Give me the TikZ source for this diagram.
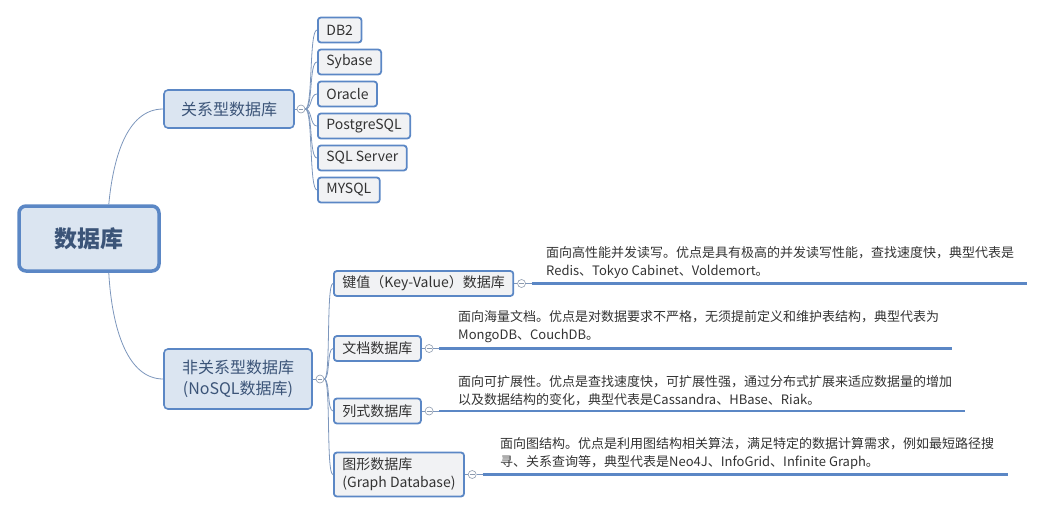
\documentclass[tikz,border=0pt]{standalone}
\usepackage{fontspec}
\setmainfont{Noto Sans CJK SC}
\usepackage{tikz}
\usetikzlibrary{positioning}
\usepackage{xcolor}
\definecolor{mapborder}{HTML}{5B87C5}
\definecolor{maproot}{HTML}{DBE5F1}
\definecolor{mapleaf}{HTML}{F1F2F4}
\definecolor{maplink}{HTML}{7C96BC}
\definecolor{mapfold}{HTML}{8C9AAE}
\definecolor{maptext}{HTML}{333333}
\definecolor{maphead}{HTML}{3B5478}

\begin{document}
\begin{tikzpicture}[x=1pt,y=-1pt,
  rootbox/.style={draw=mapborder,line width=3.5pt,rounded corners=7pt,fill=maproot,
    minimum width=140,minimum height=65,text=maphead,
    font=\fontsize{23}{26}\selectfont\bfseries},
  topic/.style={draw=mapborder,line width=1.6pt,rounded corners=4pt,fill=maproot,
    align=center,inner xsep=8pt,text=maphead,font=\fontsize{16}{21}\selectfont},
  leafbox/.style={draw=mapborder,line width=1.8pt,rounded corners=3pt,fill=mapleaf,
    anchor=west,minimum height=25,inner xsep=8.5pt,align=left,text=maptext,
    font=\fontsize{14}{18}\selectfont},
  fold/.style={circle,draw=mapfold,fill=white,inner sep=0pt,minimum size=8pt,line width=0.6pt,
    path picture={\draw[mapfold,line width=0.6pt]
      ([xshift=-2.4pt]path picture bounding box.center) --
      ([xshift=2.4pt]path picture bounding box.center);}},
  link/.style={draw=maplink,line width=0.8pt},
  bar/.style={draw=mapborder,line width=2.6pt},
  note/.style={anchor=south west,inner sep=0pt,align=left,text=maptext,
    font=\fontsize{13}{18}\selectfont}
]
\useasboundingbox (0,0) rectangle (1045,515);

\node[rootbox] (root) at (89,238.5) {数据库};

\node[topic,minimum width=130,minimum height=38] (rel) at (229,109) {关系型数据库};
\node[topic,minimum width=148,minimum height=60] (nosql) at (238,379)
  {非关系型数据库\\(NoSQL数据库)};

\draw[link] (root.60) .. controls (113,160) and (126,109) .. (rel.west);
\draw[link] (root.-60) .. controls (112,330) and (128,379) .. (nosql.west);

\node[fold] (relfold) at (301,109) {};
\node[fold] (nosqlfold) at (320,379) {};
\draw[link] (rel.east) -- (relfold.west);
\draw[link] (nosql.east) -- (nosqlfold.west);

\node[leafbox] (db2) at (317,30) {DB2};
\node[leafbox] (sybase) at (317,62) {Sybase};
\node[leafbox] (oracle) at (317,94) {Oracle};
\node[leafbox] (postgres) at (317,126) {PostgreSQL};
\node[leafbox] (sqlserver) at (317,158) {SQL Server};
\node[leafbox] (mysql) at (317,190) {MYSQL};

\draw[link] (relfold.east) .. controls (313,109) and (309,30) .. (db2.west);
\draw[link] (relfold.east) .. controls (313,109) and (309,62) .. (sybase.west);
\draw[link] (relfold.east) .. controls (312,109) and (310,94) .. (oracle.west);
\draw[link] (relfold.east) .. controls (312,109) and (310,126) .. (postgres.west);
\draw[link] (relfold.east) .. controls (313,109) and (309,158) .. (sqlserver.west);
\draw[link] (relfold.east) .. controls (313,109) and (309,190) .. (mysql.west);

\node[leafbox] (kv) at (333,283.5) {键值（Key-Value）数据库};
\node[leafbox] (doc) at (333,348.5) {文档数据库};
\node[leafbox] (col) at (333,411) {列式数据库};
\node[leafbox,minimum height=44] (graph) at (333,474.5) {图形数据库\\(Graph Database)};

\draw[link] (nosqlfold.east) .. controls (331,379) and (326,283.5) .. (kv.west);
\draw[link] (nosqlfold.east) .. controls (330,379) and (327,348.5) .. (doc.west);
\draw[link] (nosqlfold.east) .. controls (330,379) and (327,411) .. (col.west);
\draw[link] (nosqlfold.east) .. controls (331,379) and (326,474.5) .. (graph.west);

\node[fold,right=3pt of kv] (kvfold) {};
\node[fold,right=3pt of doc] (docfold) {};
\node[fold,right=3pt of col] (colfold) {};
\node[fold,right=3pt of graph] (graphfold) {};
\draw[link] (kv.east) -- (kvfold.west);
\draw[link] (doc.east) -- (docfold.west);
\draw[link] (col.east) -- (colfold.west);
\draw[link] (graph.east) -- (graphfold.west);

\coordinate (kvend) at (1027,283.5);
\coordinate (docend) at (952,348.5);
\coordinate (colend) at (965,411);
\coordinate (graphend) at (1008,474.5);
\draw[link] (kvfold.east) -- ++(6,0) coordinate (kvstart);
\draw[link] (docfold.east) -- ++(6,0) coordinate (docstart);
\draw[link] (colfold.east) -- ++(6,0) coordinate (colstart);
\draw[link] (graphfold.east) -- ++(6,0) coordinate (graphstart);
\draw[bar] (kvstart) -- (kvend);
\draw[bar] (docstart) -- (docend);
\draw[bar] (colstart) -- (colend);
\draw[bar] (graphstart) -- (graphend);

\node[note] (kvnote) at (546,279)
  {面向高性能并发读写。优点是具有极高的并发读写性能，查找速度快，典型代表是\\
   Redis、Tokyo Cabinet、Voldemort。};
\node[note] (docnote) at (458,343)
  {面向海量文档。优点是对数据要求不严格，无须提前定义和维护表结构，典型代表为\\
   MongoDB、CouchDB。};
\node[note] (colnote) at (458,406)
  {面向可扩展性。优点是查找速度快，可扩展性强，通过分布式扩展来适应数据量的增加\\
   以及数据结构的变化，典型代表是Cassandra、HBase、Riak。};
\node[note] (graphnote) at (500,470)
  {面向图结构。优点是利用图结构相关算法，满足特定的数据计算需求，例如最短路径搜\\
   寻、关系查询等，典型代表是Neo4J、InfoGrid、Infinite Graph。};
\end{tikzpicture}
\end{document}
